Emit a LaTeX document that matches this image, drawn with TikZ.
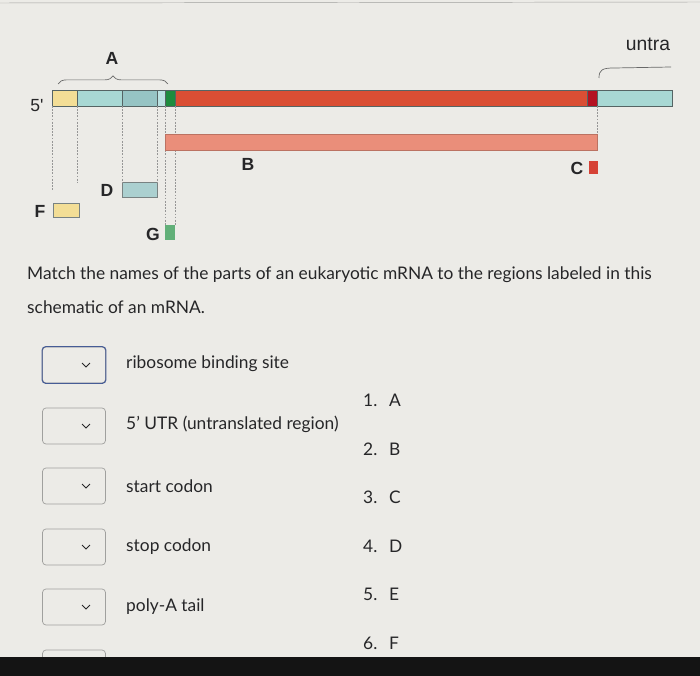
\documentclass[tikz,border=0pt]{standalone}
\usepackage{fontspec}
\setmainfont{Lato}
\newfontfamily\labfont{Liberation Sans}
\usetikzlibrary{decorations.pathreplacing}

\newcommand{\pxu}{0.03cm}

\definecolor{bgcol}{RGB}{236,235,231}
\definecolor{txt}{RGB}{38,38,40}
\definecolor{segline}{RGB}{85,100,100}
\definecolor{capcol}{RGB}{243,222,150}
\definecolor{utrcol}{RGB}{168,216,212}
\definecolor{rbscol}{RGB}{150,196,196}
\definecolor{gapcol}{RGB}{188,226,226}
\definecolor{startcol}{RGB}{30,140,62}
\definecolor{redcol}{RGB}{218,78,52}
\definecolor{stopcol}{RGB}{180,18,34}
\definecolor{orfcol}{RGB}{234,142,122}
\definecolor{guidecol}{RGB}{150,150,150}
\definecolor{boxline}{RGB}{120,130,130}
\definecolor{ddline}{RGB}{160,160,158}
\definecolor{ddfocus}{RGB}{70,92,150}

\tikzset{
  seg/.style={draw=segline, line width=0.4pt, inner sep=0pt, outer sep=0pt,
    anchor=north west, minimum height=16*\pxu},
  keybox/.style={draw=boxline, line width=0.5pt, inner sep=0pt, outer sep=0pt},
  lab/.style={font=\labfont\bfseries\fontsize{15}{15}\selectfont, text=txt, inner sep=0pt},
  guide/.style={draw=guidecol, line width=0.6pt, dash pattern=on 1.5pt off 1.2pt},
  dropbox/.style={draw=ddline, rounded corners=3pt, line width=0.6pt,
    minimum width=63*\pxu, minimum height=36*\pxu, inner sep=0pt},
  chev/.style={draw=txt, line width=0.7pt},
  body/.style={font=\fontsize{14.8}{28.5}\selectfont, text=txt, anchor=west, inner sep=0pt}
}

\begin{document}
\begin{tikzpicture}[x=0.03cm, y=-0.03cm]
  \fill[bgcol] (0,0) rectangle (700,676);
  \useasboundingbox (0,0) rectangle (700,676);
  \draw[ddline] (0,3) -- (700,2);

  % mRNA strand
  \node[seg, fill=capcol, minimum width=25*\pxu] (cap) at (52,90) {};
  \node[seg, fill=utrcol, minimum width=45*\pxu] (utr) at (77,90) {};
  \node[seg, fill=rbscol, minimum width=35*\pxu] (rbs) at (122,90) {};
  \node[seg, fill=gapcol, minimum width=8*\pxu] (spacer) at (157,90) {};
  \node[seg, fill=startcol, minimum width=10*\pxu] (start) at (165,90) {};
  \node[seg, fill=redcol, minimum width=412*\pxu] (coding) at (175,90) {};
  \node[seg, fill=stopcol, minimum width=10*\pxu] (stop) at (587,90) {};
  \node[seg, fill=utrcol, minimum width=75*\pxu] (utrthree) at (597,90) {};

  % key boxes
  \node[keybox, fill=capcol, minimum width=26*\pxu, minimum height=14*\pxu] (fkey) at (66,210) {};
  \node[keybox, fill=rbscol!80!white, minimum width=35*\pxu, minimum height=15*\pxu] (dkey) at (139.5,189.5) {};
  \node[keybox, draw=none, fill=startcol!70!white, minimum width=10*\pxu, minimum height=15*\pxu] (gkey) at (170,232.5) {};
  \node[keybox, draw=none, fill=redcol!85!purple, minimum width=9*\pxu, minimum height=13*\pxu] (ckey) at (593,168) {};

  \coordinate (fend) at (52,190);
  \coordinate (fend2) at (77,183);
  \draw[guide]
  (cap.south west) -- (fend)
  (cap.south east) -- (fend2)
  (rbs.south west) -- (dkey.north west)
  (rbs.south east) -- (dkey.north east)
  (start.south west) -- (gkey.north west)
  (start.south east) -- (gkey.north east);

  \node[seg, draw=orfcol!80!black, fill=orfcol, minimum width=432*\pxu] (orf) at (165,134) {};
  \draw[guide] (stop.south east) -- (orf.north east);

  % labels
  \node[lab] (la) at (112,58) {A};
  \node[lab] (lb) at (248,164) {B};
  \node[lab] (lc) at (577,168) {C};
  \node[lab] (ld) at (107,190) {D};
  \node[lab] (lf) at (40,211) {F};
  \node[lab] (lg) at (153,234) {G};
  \node[lab, font=\labfont\fontsize{15}{15}\selectfont] (five) at (37,106) {5'};
  \node[lab, font=\labfont\fontsize{16.5}{16.5}\selectfont] (untra) at (648,44) {untra};

  \draw[guidecol!70!black, line width=0.6pt, decorate,
    decoration={brace, amplitude=7pt}] (58,84) -- (168,84);
  \draw[guidecol!70!black, line width=0.6pt]
  (599,78) .. controls (599,70) and (602,68) .. (614,68) -- (671,67);

  % question
  \node[body, align=left] (question) at (27,290)
  {Match the names of the parts of an eukaryotic mRNA to the regions labeled in this\\
   schematic of an mRNA.};

  \foreach \y/\t [count=\i] in {364/ribosome binding site, 424/5' UTR (untranslated region),
      486/start codon, 547/stop codon, 607/poly-A tail}
    \node[body] (term\i) at (126,\y) {\t};

  \foreach \y [count=\i] in {365,426,486,547,607,668} {
    \node[dropbox] (dd\i) at (74,\y) {};
    \draw[chev] (82,\y-2) -- (86,\y+2) -- (90,\y-2);
  }
  \draw[ddfocus, rounded corners=3pt, line width=0.9pt]
  (dd1.south west) rectangle (dd1.north east);

  \foreach \y/\l [count=\i] in {400/A, 449/B, 497/C, 546/D, 594/E, 643/F} {
    \node[body] (num\i) at (363,\y) {\i.};
    \node[body] (ans\i) at (389,\y) {\l};
  }

  \fill[black!92] (0,657) rectangle (700,676);
\end{tikzpicture}
\end{document}
